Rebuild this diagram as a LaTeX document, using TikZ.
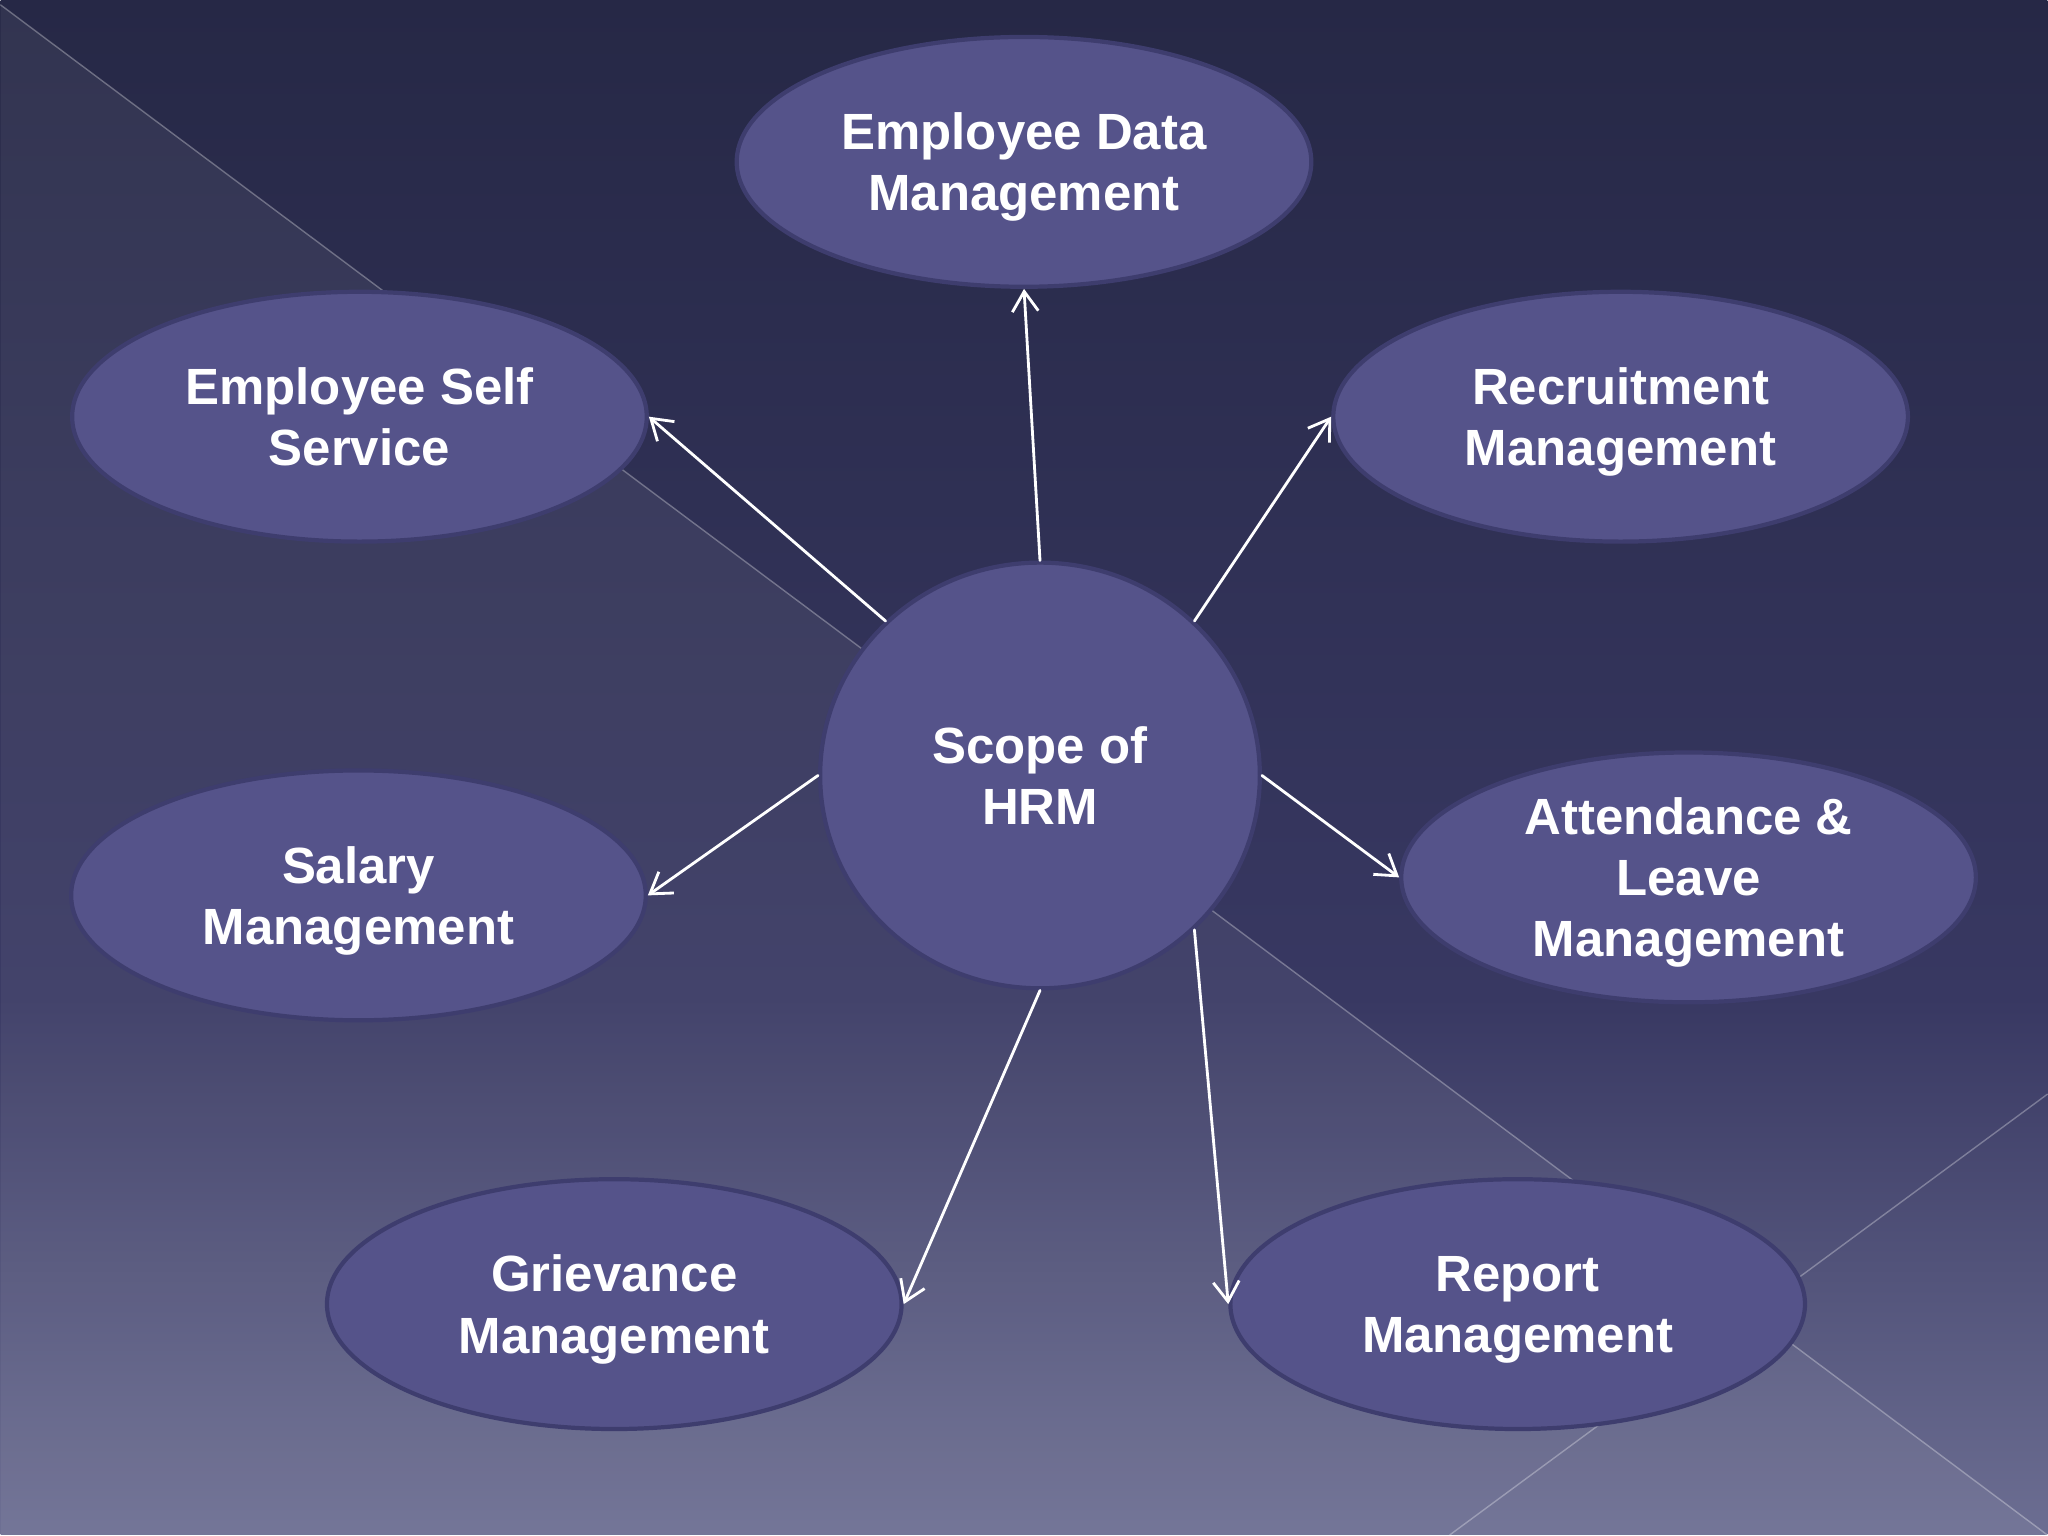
\documentclass[tikz,border=0pt]{standalone}
\usepackage{fontspec}
\setmainfont{Liberation Sans}
\usetikzlibrary{arrows.meta,shapes.geometric}
\definecolor{bgtop}{HTML}{262846}
\definecolor{bgmid}{HTML}{383862}
\definecolor{bgbot}{HTML}{6C6E92}
\definecolor{bubble}{HTML}{55538A}
\definecolor{rim}{HTML}{3E3D6E}
\pgfdeclareverticalshading{slide}{100bp}{color(0bp)=(bgbot); color(25bp)=(bgbot); color(42.5bp)=(bgmid); color(75bp)=(bgtop); color(100bp)=(bgtop)}
\begin{document}
\begin{tikzpicture}[>={Straight Barb[length=2mm,width=2.6mm]}, line join=round, line cap=round,
	topic/.style={ellipse, fill=bubble, draw=rim, line width=1.2pt, minimum width=5.75cm, minimum height=2.5cm, inner sep=0pt, align=center, text=white, text depth=0pt, font=\fontsize{14.5}{17.4}\selectfont\bfseries},
	link/.style={->, white, line width=0.8pt}]
	% background
	\shade[shading=slide] (0,0) rectangle (20.48,15.36);
	\fill[white, opacity=0.06] (0,15.31)--(20.48,0)--(0,0)--cycle;
	\draw[white, opacity=0.3, line width=0.4pt] (0,15.31)--(20.48,0) (20.48,4.41)--(14.50,0);
	% bubbles
	\node[topic, minimum width=4.4cm, minimum height=4.26cm] (hrm) at (10.40,7.60) {Scope of\\HRM};
	\node[topic] (data) at (10.24,13.74) {Employee Data\\Management};
	\node[topic] (self) at (3.59,11.19) {Employee Self\\Service};
	\node[topic] (recr) at (16.21,11.19) {Recruitment\\Management};
	\node[topic] (sal) at (3.58,6.40) {Salary\\Management};
	\node[topic] (att) at (16.89,6.58) {Attendance \&\\Leave\\Management};
	\node[topic] (griev) at (6.14,2.31) {Grievance\\Management};
	\node[topic] (rep) at (15.18,2.31) {Report\\Management};
	% arrows
	\draw[link] (hrm.90)--(data.south);
	\draw[link] (hrm.135)--(self.east);
	\draw[link] (hrm.45)--(recr.west);
	\draw[link] (hrm.180)--(sal.east);
	\draw[link] (hrm.0)--(att.west);
	\draw[link] (hrm.270)--(griev.east);
	\draw[link] (hrm.-45)--(rep.west);
\end{tikzpicture}
\end{document}
